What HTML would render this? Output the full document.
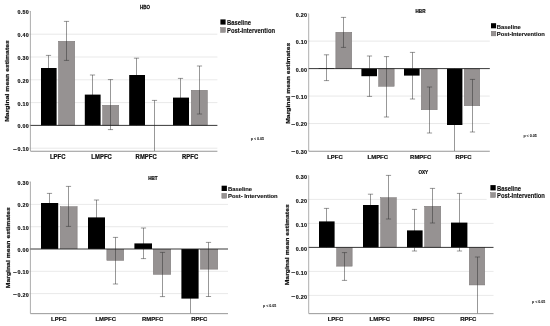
<!DOCTYPE html>
<html lang="en"><head><meta charset="utf-8"><title>Marginal mean estimates</title>
<style>html,body{margin:0;padding:0;background:#fff}svg{display:block}text{font-family:"Liberation Sans", sans-serif;fill:#111;stroke:#111;stroke-width:.12px}.b{font-weight:700}.tk{font-size:5.35px;font-weight:700;letter-spacing:.28px;stroke-width:.16px}.ct{font-size:5.9px;font-weight:700;letter-spacing:.05px;stroke-width:.2px}.yl{font-size:5.85px;font-weight:700;letter-spacing:.04px;stroke-width:.2px}.lg{font-size:5.85px;font-weight:700}.tt{font-size:4.55px;font-weight:700;stroke-width:.22px}.pv{font-size:3.6px;font-weight:700;stroke-width:.04px}</style></head><body>
<svg width="550" height="326" viewBox="0 0 550 326">
<rect width="550" height="326" fill="#fff"/>
<g>
<line x1="30.4" y1="34.20" x2="217.4" y2="34.20" stroke="#dadada" stroke-width=".6"/>
<line x1="30.4" y1="57.00" x2="217.4" y2="57.00" stroke="#dadada" stroke-width=".6"/>
<line x1="30.4" y1="79.80" x2="217.4" y2="79.80" stroke="#dadada" stroke-width=".6"/>
<line x1="30.4" y1="102.60" x2="217.4" y2="102.60" stroke="#dadada" stroke-width=".6"/>
<line x1="30.4" y1="148.20" x2="217.4" y2="148.20" stroke="#dadada" stroke-width=".6"/>
<rect x="58.45" y="41.25" width="16.30" height="83.90" fill="#969292" stroke="#787474" stroke-width=".5"/>
<rect x="102.65" y="105.25" width="16.10" height="19.90" fill="#969292" stroke="#787474" stroke-width=".5"/>
<rect x="191.25" y="90.25" width="16.10" height="34.90" fill="#969292" stroke="#787474" stroke-width=".5"/>
<path d="M48.5 55.40V125.40M45.9 55.40h5.2" fill="none" stroke="#303030" stroke-width=".5"/>
<path d="M66.5 21.40V60.40M63.9 21.40h5.2M63.9 60.40h5.2" fill="none" stroke="#303030" stroke-width=".5"/>
<path d="M92.5 75.00V125.40M89.9 75.00h5.2" fill="none" stroke="#303030" stroke-width=".5"/>
<path d="M110.5 79.60V129.60M107.9 79.60h5.2M107.9 129.60h5.2" fill="none" stroke="#303030" stroke-width=".5"/>
<path d="M136.5 58.20V125.40M133.9 58.20h5.2" fill="none" stroke="#303030" stroke-width=".5"/>
<path d="M154.5 100.40V151.00M151.9 100.40h5.2" fill="none" stroke="#303030" stroke-width=".5"/>
<path d="M180.5 78.40V125.40M177.9 78.40h5.2" fill="none" stroke="#303030" stroke-width=".5"/>
<path d="M199.5 66.00V114.00M196.9 66.00h5.2M196.9 114.00h5.2" fill="none" stroke="#303030" stroke-width=".5"/>
<rect x="41.0" y="68.00" width="15.6" height="57.40" fill="#000"/>
<rect x="84.8" y="94.60" width="15.8" height="30.80" fill="#000"/>
<rect x="129.2" y="75.00" width="15.8" height="50.40" fill="#000"/>
<rect x="173.0" y="97.60" width="16.0" height="27.80" fill="#000"/>
<line x1="30.4" y1="11.00" x2="30.4" y2="151.00" stroke="#8a8a8a" stroke-width=".7"/>
<line x1="30.4" y1="151.25" x2="217.4" y2="151.25" stroke="#6a6a6a" stroke-width=".7"/>
<line x1="30.4" y1="125.40" x2="217.4" y2="125.40" stroke="#222" stroke-width=".9"/>
<line x1="29.4" y1="11.40" x2="30.4" y2="11.40" stroke="#aaa" stroke-width=".5"/>
<text class="tk" x="29.0" y="14.35" text-anchor="end">0.50</text>
<line x1="29.4" y1="34.20" x2="30.4" y2="34.20" stroke="#aaa" stroke-width=".5"/>
<text class="tk" x="29.0" y="37.15" text-anchor="end">0.40</text>
<line x1="29.4" y1="57.00" x2="30.4" y2="57.00" stroke="#aaa" stroke-width=".5"/>
<text class="tk" x="29.0" y="59.95" text-anchor="end">0.30</text>
<line x1="29.4" y1="79.80" x2="30.4" y2="79.80" stroke="#aaa" stroke-width=".5"/>
<text class="tk" x="29.0" y="82.75" text-anchor="end">0.20</text>
<line x1="29.4" y1="102.60" x2="30.4" y2="102.60" stroke="#aaa" stroke-width=".5"/>
<text class="tk" x="29.0" y="105.55" text-anchor="end">0.10</text>
<line x1="29.4" y1="125.40" x2="30.4" y2="125.40" stroke="#aaa" stroke-width=".5"/>
<text class="tk" x="29.0" y="128.35" text-anchor="end">0.00</text>
<line x1="29.4" y1="148.20" x2="30.4" y2="148.20" stroke="#aaa" stroke-width=".5"/>
<text class="tk" x="29.0" y="151.15" text-anchor="end"><tspan font-size="6.9" dy=".35">−</tspan><tspan dx=".45" dy="-.35">0.10</tspan></text>
<text class="ct" transform="translate(57.7 158.95) scale(1 1.14)" text-anchor="middle">LPFC</text>
<text class="ct" transform="translate(101.6 158.95) scale(1 1.14)" text-anchor="middle">LMPFC</text>
<text class="ct" transform="translate(146.2 158.95) scale(1 1.14)" text-anchor="middle">RMPFC</text>
<text class="ct" transform="translate(190.1 158.95) scale(1 1.14)" text-anchor="middle">RPFC</text>
<text class="yl" style="font-size:5.85px" transform="translate(8.5 81.0) scale(1 1.16) rotate(-90)" text-anchor="middle" y="0.9">Marginal mean estimates</text>
<text class="tt" transform="translate(145.0 9.40) scale(1 1.14)" text-anchor="middle">HBO</text>
<rect x="220.4" y="19.4" width="5.2" height="5.2" fill="#000"/>
<rect x="220.65" y="27.65" width="4.70" height="4.70" fill="#969292" stroke="#787474" stroke-width=".5"/>
<text class="lg" transform="translate(227.0 25.20) scale(1 1.14)">Baseline</text>
<text class="lg" transform="translate(227.0 33.10) scale(1 1.14)">Post-Intervention</text>
<text class="pv" x="250.8" y="140.10">p &lt; 0.05</text>
</g>
<g>
<line x1="308.7" y1="41.13" x2="489.8" y2="41.13" stroke="#dadada" stroke-width=".6"/>
<line x1="308.7" y1="96.07" x2="489.8" y2="96.07" stroke="#dadada" stroke-width=".6"/>
<line x1="308.7" y1="123.54" x2="489.8" y2="123.54" stroke="#dadada" stroke-width=".6"/>
<rect x="335.85" y="32.25" width="15.90" height="36.10" fill="#969292" stroke="#787474" stroke-width=".5"/>
<rect x="378.65" y="68.85" width="15.50" height="17.40" fill="#969292" stroke="#787474" stroke-width=".5"/>
<rect x="421.25" y="68.85" width="15.90" height="40.90" fill="#969292" stroke="#787474" stroke-width=".5"/>
<rect x="464.25" y="68.85" width="15.50" height="36.90" fill="#969292" stroke="#787474" stroke-width=".5"/>
<path d="M326.5 54.80V80.60M323.9 54.80h5.2M323.9 80.60h5.2" fill="none" stroke="#303030" stroke-width=".5"/>
<path d="M343.5 17.40V47.40M340.9 17.40h5.2M340.9 47.40h5.2" fill="none" stroke="#303030" stroke-width=".5"/>
<path d="M369.5 56.00V96.40M366.9 56.00h5.2M366.9 96.40h5.2" fill="none" stroke="#303030" stroke-width=".5"/>
<path d="M386.5 56.60V117.00M383.9 56.60h5.2M383.9 117.00h5.2" fill="none" stroke="#303030" stroke-width=".5"/>
<path d="M412.5 52.40V99.00M409.9 52.40h5.2M409.9 99.00h5.2" fill="none" stroke="#303030" stroke-width=".5"/>
<path d="M429.5 87.00V133.00M426.9 87.00h5.2M426.9 133.00h5.2" fill="none" stroke="#303030" stroke-width=".5"/>
<path d="M454.5 68.60V151.00" fill="none" stroke="#303030" stroke-width=".5"/>
<path d="M472.5 79.40V132.00M469.9 79.40h5.2M469.9 132.00h5.2" fill="none" stroke="#303030" stroke-width=".5"/>
<rect x="318.6" y="68.00" width="15.4" height="0.60" fill="#000"/>
<rect x="361.4" y="68.60" width="15.6" height="7.60" fill="#000"/>
<rect x="404.0" y="68.60" width="15.6" height="7.00" fill="#000"/>
<rect x="447.0" y="68.60" width="15.4" height="56.40" fill="#000"/>
<line x1="308.7" y1="13.70" x2="308.7" y2="151.00" stroke="#8a8a8a" stroke-width=".7"/>
<line x1="308.7" y1="151.25" x2="489.8" y2="151.25" stroke="#6a6a6a" stroke-width=".7"/>
<line x1="308.7" y1="68.60" x2="489.8" y2="68.60" stroke="#222" stroke-width=".9"/>
<line x1="307.7" y1="13.66" x2="308.7" y2="13.66" stroke="#aaa" stroke-width=".5"/>
<text class="tk" x="307.3" y="16.61" text-anchor="end">0.20</text>
<line x1="307.7" y1="41.13" x2="308.7" y2="41.13" stroke="#aaa" stroke-width=".5"/>
<text class="tk" x="307.3" y="44.08" text-anchor="end">0.10</text>
<line x1="307.7" y1="68.60" x2="308.7" y2="68.60" stroke="#aaa" stroke-width=".5"/>
<text class="tk" x="307.3" y="71.55" text-anchor="end">0.00</text>
<line x1="307.7" y1="96.07" x2="308.7" y2="96.07" stroke="#aaa" stroke-width=".5"/>
<text class="tk" x="307.3" y="99.02" text-anchor="end"><tspan font-size="6.9" dy=".35">−</tspan><tspan dx=".45" dy="-.35">0.10</tspan></text>
<line x1="307.7" y1="123.54" x2="308.7" y2="123.54" stroke="#aaa" stroke-width=".5"/>
<text class="tk" x="307.3" y="126.49" text-anchor="end"><tspan font-size="6.9" dy=".35">−</tspan><tspan dx=".45" dy="-.35">0.20</tspan></text>
<line x1="307.7" y1="151.01" x2="308.7" y2="151.01" stroke="#aaa" stroke-width=".5"/>
<text class="tk" x="307.3" y="153.96" text-anchor="end"><tspan font-size="6.9" dy=".35">−</tspan><tspan dx=".45" dy="-.35">0.30</tspan></text>
<text class="ct" transform="translate(335.0 158.70) scale(1 1.00)" text-anchor="middle">LPFC</text>
<text class="ct" transform="translate(377.8 158.70) scale(1 1.00)" text-anchor="middle">LMPFC</text>
<text class="ct" transform="translate(420.7 158.70) scale(1 1.00)" text-anchor="middle">RMPFC</text>
<text class="ct" transform="translate(463.5 158.70) scale(1 1.00)" text-anchor="middle">RPFC</text>
<text class="yl" style="font-size:5.85px" transform="translate(288.7 83.3) scale(1 1.15) rotate(-90)" text-anchor="middle" y="0.9">Marginal mean estimates</text>
<text class="tt" transform="translate(420.5 13.20) scale(1 1.00)" text-anchor="middle">HBR</text>
<rect x="491.0" y="23.2" width="5.1" height="5.1" fill="#000"/>
<rect x="491.25" y="31.25" width="4.60" height="4.60" fill="#969292" stroke="#787474" stroke-width=".5"/>
<text class="lg" transform="translate(496.8 29.00) scale(1 1.06)">Baseline</text>
<text class="lg" transform="translate(496.8 36.40) scale(1 1.06)">Post-Intervention</text>
<text class="pv" x="523.4" y="137.30">p &lt; 0.05</text>
</g>
<g>
<line x1="30.4" y1="204.40" x2="228.0" y2="204.40" stroke="#dadada" stroke-width=".6"/>
<line x1="30.4" y1="226.70" x2="228.0" y2="226.70" stroke="#dadada" stroke-width=".6"/>
<line x1="30.4" y1="271.30" x2="228.0" y2="271.30" stroke="#dadada" stroke-width=".6"/>
<line x1="30.4" y1="293.60" x2="228.0" y2="293.60" stroke="#dadada" stroke-width=".6"/>
<rect x="60.25" y="206.65" width="16.90" height="42.10" fill="#969292" stroke="#787474" stroke-width=".5"/>
<rect x="106.85" y="249.25" width="16.90" height="11.10" fill="#969292" stroke="#787474" stroke-width=".5"/>
<rect x="153.25" y="249.25" width="17.50" height="25.10" fill="#969292" stroke="#787474" stroke-width=".5"/>
<rect x="200.45" y="249.25" width="17.30" height="19.90" fill="#969292" stroke="#787474" stroke-width=".5"/>
<path d="M49.5 193.40V249.00M46.9 193.40h5.2" fill="none" stroke="#303030" stroke-width=".5"/>
<path d="M68.5 186.40V226.40M65.9 186.40h5.2M65.9 226.40h5.2" fill="none" stroke="#303030" stroke-width=".5"/>
<path d="M96.5 200.00V249.00M93.9 200.00h5.2" fill="none" stroke="#303030" stroke-width=".5"/>
<path d="M115.5 237.40V284.00M112.9 237.40h5.2M112.9 284.00h5.2" fill="none" stroke="#303030" stroke-width=".5"/>
<path d="M143.5 228.00V258.60M140.9 228.00h5.2M140.9 258.60h5.2" fill="none" stroke="#303030" stroke-width=".5"/>
<path d="M162.5 252.40V296.60M159.9 252.40h5.2M159.9 296.60h5.2" fill="none" stroke="#303030" stroke-width=".5"/>
<path d="M190.5 249.00V313.40" fill="none" stroke="#303030" stroke-width=".5"/>
<path d="M208.5 242.40V296.50M205.9 242.40h5.2M205.9 296.50h5.2" fill="none" stroke="#303030" stroke-width=".5"/>
<rect x="41.0" y="203.00" width="17.2" height="46.00" fill="#000"/>
<rect x="88.0" y="217.40" width="17.0" height="31.60" fill="#000"/>
<rect x="134.4" y="243.40" width="17.6" height="5.60" fill="#000"/>
<rect x="181.4" y="249.00" width="17.2" height="49.60" fill="#000"/>
<line x1="30.4" y1="181.60" x2="30.4" y2="313.40" stroke="#8a8a8a" stroke-width=".7"/>
<line x1="30.4" y1="313.65" x2="228.0" y2="313.65" stroke="#6a6a6a" stroke-width=".7"/>
<line x1="30.4" y1="249.00" x2="228.0" y2="249.00" stroke="#222" stroke-width=".9"/>
<line x1="29.4" y1="182.10" x2="30.4" y2="182.10" stroke="#aaa" stroke-width=".5"/>
<text class="tk" x="29.0" y="185.05" text-anchor="end">0.30</text>
<line x1="29.4" y1="204.40" x2="30.4" y2="204.40" stroke="#aaa" stroke-width=".5"/>
<text class="tk" x="29.0" y="207.35" text-anchor="end">0.20</text>
<line x1="29.4" y1="226.70" x2="30.4" y2="226.70" stroke="#aaa" stroke-width=".5"/>
<text class="tk" x="29.0" y="229.65" text-anchor="end">0.10</text>
<line x1="29.4" y1="249.00" x2="30.4" y2="249.00" stroke="#aaa" stroke-width=".5"/>
<text class="tk" x="29.0" y="251.95" text-anchor="end">0.00</text>
<line x1="29.4" y1="271.30" x2="30.4" y2="271.30" stroke="#aaa" stroke-width=".5"/>
<text class="tk" x="29.0" y="274.25" text-anchor="end"><tspan font-size="6.9" dy=".35">−</tspan><tspan dx=".45" dy="-.35">0.10</tspan></text>
<line x1="29.4" y1="293.60" x2="30.4" y2="293.60" stroke="#aaa" stroke-width=".5"/>
<text class="tk" x="29.0" y="296.55" text-anchor="end"><tspan font-size="6.9" dy=".35">−</tspan><tspan dx=".45" dy="-.35">0.20</tspan></text>
<text class="ct" transform="translate(58.8 321.10) scale(1 1.00)" text-anchor="middle">LPFC</text>
<text class="ct" transform="translate(105.7 321.10) scale(1 1.00)" text-anchor="middle">LMPFC</text>
<text class="ct" transform="translate(152.6 321.10) scale(1 1.00)" text-anchor="middle">RMPFC</text>
<text class="ct" transform="translate(199.3 321.10) scale(1 1.00)" text-anchor="middle">RPFC</text>
<text class="yl" style="font-size:5.85px" transform="translate(9.0 247.7) scale(1 1.15) rotate(-90)" text-anchor="middle" y="0.9">Marginal mean estimates</text>
<text class="tt" transform="translate(152.8 179.50) scale(1 1.00)" text-anchor="middle">HBT</text>
<rect x="221.6" y="185.7" width="5.3" height="5.3" fill="#000"/>
<rect x="221.85" y="193.40" width="4.80" height="4.80" fill="#969292" stroke="#787474" stroke-width=".5"/>
<text class="lg" transform="translate(228.0 191.30) scale(1 1.00)">Baseline</text>
<text class="lg" transform="translate(228.0 198.40) scale(1 1.00)">Post- Intervention</text>
<text class="pv" x="263.0" y="306.85">p &lt; 0.05</text>
</g>
<g>
<line x1="308.7" y1="199.40" x2="493.5" y2="199.40" stroke="#dadada" stroke-width=".6"/>
<line x1="308.7" y1="223.40" x2="493.5" y2="223.40" stroke="#dadada" stroke-width=".6"/>
<line x1="308.7" y1="271.40" x2="493.5" y2="271.40" stroke="#dadada" stroke-width=".6"/>
<line x1="308.7" y1="295.40" x2="493.5" y2="295.40" stroke="#dadada" stroke-width=".6"/>
<rect x="336.65" y="247.65" width="15.50" height="18.50" fill="#969292" stroke="#787474" stroke-width=".5"/>
<rect x="380.65" y="197.65" width="15.70" height="49.50" fill="#969292" stroke="#787474" stroke-width=".5"/>
<rect x="424.65" y="206.25" width="16.10" height="40.90" fill="#969292" stroke="#787474" stroke-width=".5"/>
<rect x="469.25" y="247.65" width="15.50" height="37.30" fill="#969292" stroke="#787474" stroke-width=".5"/>
<path d="M326.5 208.40V247.40M323.9 208.40h5.2" fill="none" stroke="#303030" stroke-width=".5"/>
<path d="M344.5 252.60V280.40M341.9 252.60h5.2M341.9 280.40h5.2" fill="none" stroke="#303030" stroke-width=".5"/>
<path d="M370.5 194.20V247.40M367.9 194.20h5.2" fill="none" stroke="#303030" stroke-width=".5"/>
<path d="M388.5 175.40V219.00M385.9 175.40h5.2M385.9 219.00h5.2" fill="none" stroke="#303030" stroke-width=".5"/>
<path d="M414.5 209.40V251.00M411.9 209.40h5.2M411.9 251.00h5.2" fill="none" stroke="#303030" stroke-width=".5"/>
<path d="M432.5 188.40V223.00M429.9 188.40h5.2M429.9 223.00h5.2" fill="none" stroke="#303030" stroke-width=".5"/>
<path d="M459.5 193.40V251.00M456.9 193.40h5.2M456.9 251.00h5.2" fill="none" stroke="#303030" stroke-width=".5"/>
<path d="M477.5 257.00V313.40M474.9 257.00h5.2" fill="none" stroke="#303030" stroke-width=".5"/>
<rect x="319.0" y="221.40" width="15.6" height="26.00" fill="#000"/>
<rect x="363.0" y="205.00" width="15.6" height="42.40" fill="#000"/>
<rect x="407.0" y="230.40" width="15.6" height="17.00" fill="#000"/>
<rect x="451.0" y="222.60" width="16.4" height="24.80" fill="#000"/>
<line x1="308.7" y1="175.40" x2="308.7" y2="313.40" stroke="#8a8a8a" stroke-width=".7"/>
<line x1="308.7" y1="313.65" x2="493.5" y2="313.65" stroke="#6a6a6a" stroke-width=".7"/>
<line x1="308.7" y1="247.40" x2="493.5" y2="247.40" stroke="#222" stroke-width=".9"/>
<line x1="307.7" y1="175.40" x2="308.7" y2="175.40" stroke="#aaa" stroke-width=".5"/>
<text class="tk" x="307.3" y="178.75" text-anchor="end">0.30</text>
<line x1="307.7" y1="199.40" x2="308.7" y2="199.40" stroke="#aaa" stroke-width=".5"/>
<text class="tk" x="307.3" y="202.75" text-anchor="end">0.20</text>
<line x1="307.7" y1="223.40" x2="308.7" y2="223.40" stroke="#aaa" stroke-width=".5"/>
<text class="tk" x="307.3" y="226.75" text-anchor="end">0.10</text>
<line x1="307.7" y1="247.40" x2="308.7" y2="247.40" stroke="#aaa" stroke-width=".5"/>
<text class="tk" x="307.3" y="250.75" text-anchor="end">0.00</text>
<line x1="307.7" y1="271.40" x2="308.7" y2="271.40" stroke="#aaa" stroke-width=".5"/>
<text class="tk" x="307.3" y="274.75" text-anchor="end"><tspan font-size="6.9" dy=".35">−</tspan><tspan dx=".45" dy="-.35">0.10</tspan></text>
<line x1="307.7" y1="295.40" x2="308.7" y2="295.40" stroke="#aaa" stroke-width=".5"/>
<text class="tk" x="307.3" y="298.75" text-anchor="end"><tspan font-size="6.9" dy=".35">−</tspan><tspan dx=".45" dy="-.35">0.20</tspan></text>
<text class="ct" transform="translate(335.5 321.10) scale(1 1.00)" text-anchor="middle">LPFC</text>
<text class="ct" transform="translate(379.8 321.10) scale(1 1.00)" text-anchor="middle">LMPFC</text>
<text class="ct" transform="translate(424.0 321.10) scale(1 1.00)" text-anchor="middle">RMPFC</text>
<text class="ct" transform="translate(468.3 321.10) scale(1 1.00)" text-anchor="middle">RPFC</text>
<text class="yl" style="font-size:5.85px" transform="translate(287.9 244.8) scale(1 1.15) rotate(-90)" text-anchor="middle" y="0.9">Marginal mean estimates</text>
<text class="tt" transform="translate(423.3 173.70) scale(1 1.00)" text-anchor="middle">OXY</text>
<rect x="486.6" y="181" width="63.4" height="21" fill="#fff"/>
<rect x="490.4" y="185.1" width="5.3" height="5.3" fill="#000"/>
<rect x="490.65" y="192.65" width="4.80" height="4.80" fill="#969292" stroke="#787474" stroke-width=".5"/>
<text class="lg" transform="translate(497.0 190.90) scale(1 1.10)">Baseline</text>
<text class="lg" transform="translate(497.0 198.30) scale(1 1.10)">Post-Intervention</text>
<text class="pv" x="532.0" y="303.00">p &lt; 0.05</text>
</g>
</svg></body></html>
